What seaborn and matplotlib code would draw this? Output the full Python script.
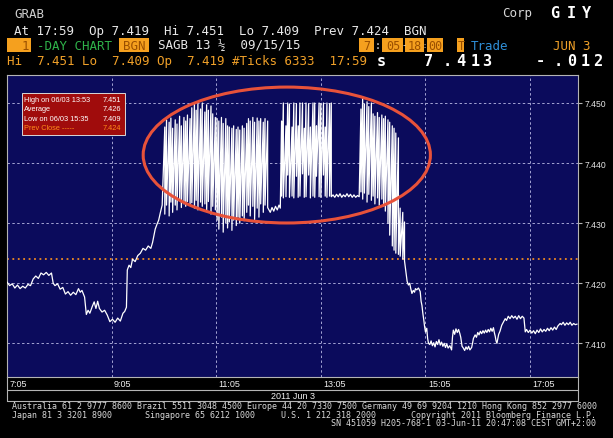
import matplotlib
matplotlib.use("Agg")
import matplotlib.pyplot as plt
import matplotlib.transforms as mtransforms
from matplotlib.patches import Ellipse, Rectangle
from matplotlib.lines import Line2D
import numpy as np
import pandas as pd
import seaborn as sns

# ---- ticks (minutes after midnight, price) ----
morning_min = [425, 428, 431, 434, 437, 440, 443, 446, 449, 452,
               455, 458, 461, 464, 467, 470, 473, 476, 478, 480,
               483, 486, 489, 492, 495, 498, 501, 504, 507, 509,
               511, 514, 516, 518, 520, 523, 525, 527, 529, 531,
               534, 537, 540, 543, 546, 549, 552, 555, 558, 560,
               562, 563, 565, 567, 569, 572, 575, 578, 581, 584,
               587, 590, 592, 595, 597, 599, 601, 603]
morning_px = [7.4202, 7.4196, 7.4199, 7.4192, 7.4197, 7.4191, 7.4195, 7.4192, 7.4198, 7.4196,
              7.4207, 7.4212, 7.4208, 7.4217, 7.4214, 7.4218, 7.4213, 7.4217, 7.4200, 7.4196,
              7.4199, 7.4190, 7.4193, 7.4182, 7.4186, 7.4180, 7.4185, 7.4181, 7.4191, 7.4185,
              7.4188, 7.4177, 7.4148, 7.4155, 7.4150, 7.4162, 7.4169, 7.4158, 7.4170, 7.4158,
              7.4152, 7.4155, 7.4147, 7.4136, 7.4140, 7.4135, 7.4142, 7.4137, 7.4150, 7.4153,
              7.4160, 7.4222, 7.4230, 7.4226, 7.4240, 7.4236, 7.4246, 7.4250, 7.4258, 7.4255,
              7.4262, 7.4258, 7.4268, 7.4290, 7.4298, 7.4305, 7.4318, 7.4330]

# first burst of quotes flipping between bid and offer
burst1_min = [606, 608, 611, 613, 615, 618, 620, 623, 625, 628,
              630, 632, 635, 637, 640, 642, 644, 647, 649, 652,
              654, 656, 659, 661, 664, 666, 668, 671, 673, 676,
              678, 680, 683, 685, 688, 690, 692, 695, 697, 700,
              702, 704, 707, 709, 712, 714, 716, 719, 721, 724]
burst1_hi = [7.4460, 7.4472, 7.4468, 7.4475, 7.4458, 7.4472, 7.4465, 7.4478, 7.4462, 7.4476,
             7.4470, 7.4480, 7.4474, 7.4492, 7.4500, 7.4488, 7.4498, 7.4490, 7.4500, 7.4485,
             7.4497, 7.4488, 7.4495, 7.4482, 7.4476, 7.4474, 7.4470, 7.4476, 7.4466, 7.4474,
             7.4462, 7.4460, 7.4458, 7.4462, 7.4456, 7.4460, 7.4455, 7.4462, 7.4458, 7.4466,
             7.4474, 7.4470, 7.4476, 7.4468, 7.4475, 7.4470, 7.4474, 7.4468, 7.4474, 7.4470]
burst1_lo = [7.4315, 7.4330, 7.4312, 7.4335, 7.4318, 7.4330, 7.4322, 7.4338, 7.4326, 7.4332,
             7.4328, 7.4336, 7.4330, 7.4334, 7.4325, 7.4338, 7.4322, 7.4335, 7.4328, 7.4332,
             7.4320, 7.4336, 7.4315, 7.4328, 7.4322, 7.4305, 7.4290, 7.4310, 7.4285, 7.4300,
             7.4292, 7.4302, 7.4288, 7.4305, 7.4296, 7.4310, 7.4300, 7.4312, 7.4304, 7.4318,
             7.4330, 7.4312, 7.4328, 7.4306, 7.4325, 7.4310, 7.4332, 7.4318, 7.4330, 7.4326]

pause1_min = [725.5, 727, 729, 731, 733, 735, 737, 738.5]
pause1_px = [7.4322, 7.4318, 7.4326, 7.4320, 7.4328, 7.4322, 7.4330, 7.4325]

burst2_min = [740, 742, 745, 747, 749, 752, 754, 757, 759, 761,
              764, 766, 768, 771, 773, 776, 778, 780, 783, 785,
              788, 790, 792, 795, 797]
burst2_hi = [7.4470, 7.4500, 7.4462, 7.4500, 7.4498, 7.4460, 7.4500, 7.4499, 7.4462, 7.4500,
             7.4500, 7.4458, 7.4500, 7.4499, 7.4460, 7.4500, 7.4500, 7.4462, 7.4500, 7.4499,
             7.4500, 7.4460, 7.4500, 7.4499, 7.4500]
burst2_lo = [7.4345, 7.4342, 7.4344, 7.4380, 7.4343, 7.4345, 7.4342, 7.4378, 7.4343, 7.4345,
             7.4382, 7.4343, 7.4344, 7.4380, 7.4342, 7.4345, 7.4343, 7.4378, 7.4344, 7.4343,
             7.4380, 7.4345, 7.4343, 7.4345, 7.4344]

pause2_min = [799, 801, 803, 805, 807, 809, 811, 813, 815, 817, 819, 821, 823, 825, 827, 829]
pause2_px = [7.4347, 7.4343, 7.4348, 7.4344, 7.4349, 7.4343, 7.4347, 7.4344,
             7.4349, 7.4344, 7.4348, 7.4343, 7.4347, 7.4343, 7.4346, 7.4344]

burst3_min = [831, 833, 835, 838, 840, 843, 845, 847, 850, 852,
              855, 857, 859, 862, 864, 867, 869, 871, 874, 876, 879, 881]
burst3_hi = [7.4490, 7.4510, 7.4498, 7.4502, 7.4494, 7.4500, 7.4482, 7.4478, 7.4484, 7.4476,
             7.4480, 7.4474, 7.4478, 7.4472, 7.4468, 7.4462, 7.4458, 7.4450, 7.4442, 7.4325,
             7.4318, 7.4302]
burst3_lo = [7.4352, 7.4340, 7.4350, 7.4335, 7.4348, 7.4338, 7.4345, 7.4332, 7.4342, 7.4330,
             7.4340, 7.4328, 7.4320, 7.4300, 7.4280, 7.4262, 7.4255, 7.4250, 7.4248, 7.4245,
             7.4240, 7.4237]

aft_min = [883, 884, 885.5, 887, 888, 889.5, 891, 892.5, 893.5, 895,
           897, 899, 900, 901, 902, 903, 904, 905, 906.5, 907.5,
           908.5, 910, 911.5, 913, 914.5, 916, 917.5, 919, 920.5, 922,
           923.5, 925, 926.5, 928, 929.5, 931, 933, 935, 936, 937,
           938.5, 940, 941.5, 943, 944.5, 945.5, 947, 948.5, 950, 951.5,
           953, 954.5, 956, 958, 959, 960, 962, 963.5, 965, 966.5,
           968, 969.5, 971, 972.5, 974, 975.5, 977, 978.5, 980, 981.5,
           983, 984, 985, 986, 987, 988, 989, 990.5, 992.5, 994,
           996.5, 998, 1000, 1002, 1004, 1006, 1008, 1010, 1012, 1014,
           1016, 1018, 1019.5, 1021, 1023, 1025, 1027, 1029, 1031, 1033,
           1035, 1037, 1039, 1041, 1043, 1045, 1047, 1049, 1051, 1053,
           1055, 1057, 1059.5, 1061, 1063, 1065, 1067, 1069, 1071, 1073,
           1075, 1077, 1079]
aft_px = [7.4215, 7.4203, 7.4197, 7.4200, 7.4192, 7.4183, 7.4188, 7.4185, 7.4191, 7.4189,
          7.4192, 7.4186, 7.4170, 7.4163, 7.4150, 7.4140, 7.4128, 7.4119, 7.4125, 7.4108,
          7.4100, 7.4098, 7.4104, 7.4096, 7.4101, 7.4094, 7.4103, 7.4098, 7.4106, 7.4097,
          7.4102, 7.4095, 7.4100, 7.4093, 7.4099, 7.4092, 7.4096, 7.4089, 7.4110, 7.4122,
          7.4115, 7.4124, 7.4118, 7.4123, 7.4116, 7.4110, 7.4095, 7.4092, 7.4088, 7.4094,
          7.4090, 7.4095, 7.4089, 7.4093, 7.4100, 7.4108, 7.4114, 7.4110, 7.4118, 7.4114,
          7.4120, 7.4116, 7.4121, 7.4117, 7.4122, 7.4118, 7.4123, 7.4119, 7.4125, 7.4120,
          7.4126, 7.4118, 7.4112, 7.4104, 7.4100, 7.4108, 7.4115, 7.4120, 7.4130, 7.4134,
          7.4141, 7.4138, 7.4145, 7.4141, 7.4146, 7.4142, 7.4145, 7.4140, 7.4146, 7.4141,
          7.4145, 7.4142, 7.4119, 7.4123, 7.4118, 7.4122, 7.4117, 7.4121, 7.4116, 7.4122,
          7.4118, 7.4124, 7.4119, 7.4123, 7.4120, 7.4125, 7.4121, 7.4126, 7.4122, 7.4127,
          7.4123, 7.4129, 7.4133, 7.4131, 7.4135, 7.4130, 7.4134, 7.4131, 7.4135, 7.4130,
          7.4133, 7.4131, 7.4132]

prev_close = 7.424
y_ticks = [7.41, 7.42, 7.43, 7.44, 7.45]
x_ticks = [425, 545, 665, 785, 905, 1025]
x_labels = ["7:05", "9:05", "11:05", "13:05", "15:05", "17:05"]
x_minor = [485, 605, 725, 845, 965]

stats_names = ["High on 06/03 13:53", "Average", "Low on 06/03 15:35", "Prev Close -----"]
stats_vals = ["7.451", "7.426", "7.409", "7.424"]


def burst(t, hi, lo):
    # each quote flip: top and bottom of the spike at the same time
    return np.repeat(t, 2), np.column_stack([hi, lo]).ravel()


b1x, b1y = burst(burst1_min, burst1_hi, burst1_lo)
b2x, b2y = burst(burst2_min, burst2_hi, burst2_lo)
b3x, b3y = burst(burst3_min, burst3_hi, burst3_lo)

df = pd.DataFrame({
    "minute": np.concatenate([morning_min, b1x, pause1_min, b2x, pause2_min, b3x, aft_min]),
    "price": np.concatenate([morning_px, b1y, pause1_px, b2y, pause2_px, b3y, aft_px]),
})

# ---- colours / style ----
NAVY = "#0b0b5c"
GRID = "#a4a4d4"
FRAME = "#b4b4b4"
AMBER = "#f5a01e"
AMBER_TXT = "#9a4f00"
ORANGE = "#f0a028"

sns.set_style("dark")
plt.rcParams["font.family"] = ["Liberation Sans", "DejaVu Sans"]
MONO = "DejaVu Sans Mono"

W, H = 613, 439
fig = plt.figure(figsize=(W / 100, H / 100), dpi=100, facecolor="black")


def fx(p):
    return p / W


def fy(p):
    return 1 - p / H


def ftext(x, y, s, **kw):
    kw.setdefault("va", "center")
    fig.text(fx(x), fy(y), s, **kw)


def fbox(x0, y0, x1, y1, color, edge="none"):
    fig.add_artist(Rectangle((fx(x0), fy(y1)), fx(x1) - fx(x0), fy(y0) - fy(y1),
                             transform=fig.transFigure, facecolor=color,
                             edgecolor=edge, lw=0.8, zorder=0))


def fline(xs, ys, color=FRAME, lw=0.8):
    fig.add_artist(Line2D([fx(v) for v in xs], [fy(v) for v in ys],
                          transform=fig.transFigure, color=color, lw=lw))


# ---- chart panel ----
ax = fig.add_axes([fx(7), fy(378), fx(578) - fx(7), fy(76) - fy(378)])
ax.set_facecolor(NAVY)

sns.lineplot(data=df, x="minute", y="price", sort=False, estimator=None,
             color="white", lw=0.9, ax=ax, zorder=3)
ax.axhline(prev_close, color="#f08a20", lw=1.3, ls=(0, (1, 2)), zorder=2)

ax.set_xlim(425, 1080)
ax.set_ylim(7.40439, 7.45466)
ax.set_xlabel("")
ax.set_ylabel("")

ax.yaxis.tick_right()
ax.set_yticks(y_ticks)
ax.set_yticklabels([f"{v:.3f}" for v in y_ticks])
ax.tick_params(axis="y", direction="out", length=3, width=0.8, color=FRAME,
               labelcolor="#e4e4e4", labelsize=6.2, pad=1.5)

ax.set_xticks(x_ticks)
ax.set_xticklabels(x_labels)
ax.set_xticks(x_minor, minor=True)
ax.tick_params(axis="x", which="major", direction="out", length=9.4, width=0.8,
               color=FRAME, labelcolor="#f0f0f0", labelsize=6.5, pad=-7.8)
ax.tick_params(axis="x", which="minor", direction="in", length=2.5, width=0.8,
               color="#d0d0d0")
shift = mtransforms.ScaledTranslation(0.025, 0, fig.dpi_scale_trans)
for lbl in ax.get_xticklabels():
    lbl.set_horizontalalignment("left")
    lbl.set_transform(lbl.get_transform() + shift)

ax.grid(True, which="major", color=GRID, lw=0.7, ls=(0, (2.5, 2.5)))
for sp in ax.spines.values():
    sp.set_color(FRAME)
    sp.set_linewidth(0.8)

# circled area
ax.add_patch(Ellipse((0.490, 0.735), 0.503, 0.450, transform=ax.transAxes,
                     fill=False, edgecolor="#e8523a", lw=2.2, zorder=5))

# high / low box
ax.add_patch(Rectangle((0.0263, 0.8013), 0.1804, 0.1391, transform=ax.transAxes,
                       facecolor="#a00c0c", edgecolor="#d8d8d8", lw=0.7, zorder=6))
for i, (nm, val) in enumerate(zip(stats_names, stats_vals)):
    c = "#ff8c1a" if i == 3 else "white"
    yy = 100.7 + i * 9.2
    ftext(24, yy, nm, color=c, fontsize=5.3, zorder=7)
    ftext(121, yy, val, color=c, fontsize=5.3, ha="right", zorder=7)

# date strip under the time labels
fline([7, 578], [391, 391])
fline([7, 578], [402, 402])
fline([7, 7], [378, 402])
fline([578, 578], [378, 402])
ftext(293, 397, "2011 Jun 3", color="#f0f0f0", fontsize=6.5, ha="center")

# ---- header ----
ftext(14, 14, "GRAB", color="#d0d0d0", fontsize=9, family=MONO)
ftext(502, 14, "Corp", color="#d8d8d8", fontsize=9, family=MONO)
for ch, cx in zip("GIY", [555, 571, 586]):
    ftext(cx, 14, ch, color="white", fontsize=11, family=MONO, weight="bold", ha="center")

ftext(14, 31, "At 17:59  Op 7.419  Hi 7.451  Lo 7.409  Prev 7.424  BGN",
      color="#e8e8e8", fontsize=9, family=MONO)

fbox(7, 39, 31, 53, AMBER)
ftext(29, 46, "1", color=AMBER_TXT, fontsize=9, family=MONO, ha="right")
ftext(37, 46, "-DAY CHART", color="#2fb34a", fontsize=9, family=MONO)
fbox(119, 39, 149, 53, AMBER)
ftext(134, 46, "BGN", color=AMBER_TXT, fontsize=9, family=MONO, ha="center")
ftext(158, 46, "SAGB 13 \u00bd  09/15/15", color="#e8e8e8", fontsize=9, family=MONO)
for (x0, x1, s) in [(359, 374, "7"), (382, 403, "05"), (405, 424, "18"), (427, 443, "00"), (457, 464, "T")]:
    fbox(x0, 39, x1, 53, AMBER)
    ftext((x0 + x1) / 2 + 0.5, 46, s, color=AMBER_TXT, fontsize=8.5, family=MONO, ha="center")
ftext(378, 46, ":", color="#e8e8e8", fontsize=7, family=MONO, ha="center")
ftext(404, 46, "-", color="#e8e8e8", fontsize=6, family=MONO, ha="center")
ftext(425, 46, ":", color="#e8e8e8", fontsize=5, family=MONO, ha="center")
ftext(471, 46, "Trade", color="#2f8fd8", fontsize=9, family=MONO)
ftext(553, 46, "JUN 3", color=ORANGE, fontsize=9, family=MONO)

ftext(7, 61, "Hi  7.451 Lo  7.409 Op  7.419 #Ticks 6333  17:59",
      color=ORANGE, fontsize=9, family=MONO)
ftext(381, 62, "s", color="white", fontsize=11, family=MONO, weight="bold", ha="center")
for ch, cx in zip("7.413", [429, 447, 461, 475, 487]):
    ftext(cx, 61, ch, color="white", fontsize=11, family=MONO, weight="bold", ha="center")
for ch, cx in zip("-.012", [540, 558, 572, 585, 598]):
    ftext(cx, 61, ch, color="white", fontsize=11, family=MONO, weight="bold", ha="center")

# ---- footer ----
FOOT = "#d8d8d8"
ftext(12, 407, "Australia 61 2 9777 8600 Brazil 5511 3048 4500 Europe 44 20 7330 7500 "
      "Germany 49 69 9204 1210 Hong Kong 852 2977 6000", color=FOOT, fontsize=6, family=MONO)
ftext(12, 415.5, "Japan 81 3 3201 8900", color=FOOT, fontsize=6, family=MONO)
ftext(145, 415.5, "Singapore 65 6212 1000", color=FOOT, fontsize=6, family=MONO)
ftext(281, 415.5, "U.S. 1 212 318 2000", color=FOOT, fontsize=6, family=MONO)
ftext(596, 415.5, "Copyright 2011 Bloomberg Finance L.P.", color=FOOT, fontsize=6,
      family=MONO, ha="right")
ftext(596, 424, "SN 451059 H205-768-1 03-Jun-11 20:47:08 CEST GMT+2:00", color=FOOT,
      fontsize=6, family=MONO, ha="right")

fig.savefig("out.png", dpi=100, facecolor="black")
